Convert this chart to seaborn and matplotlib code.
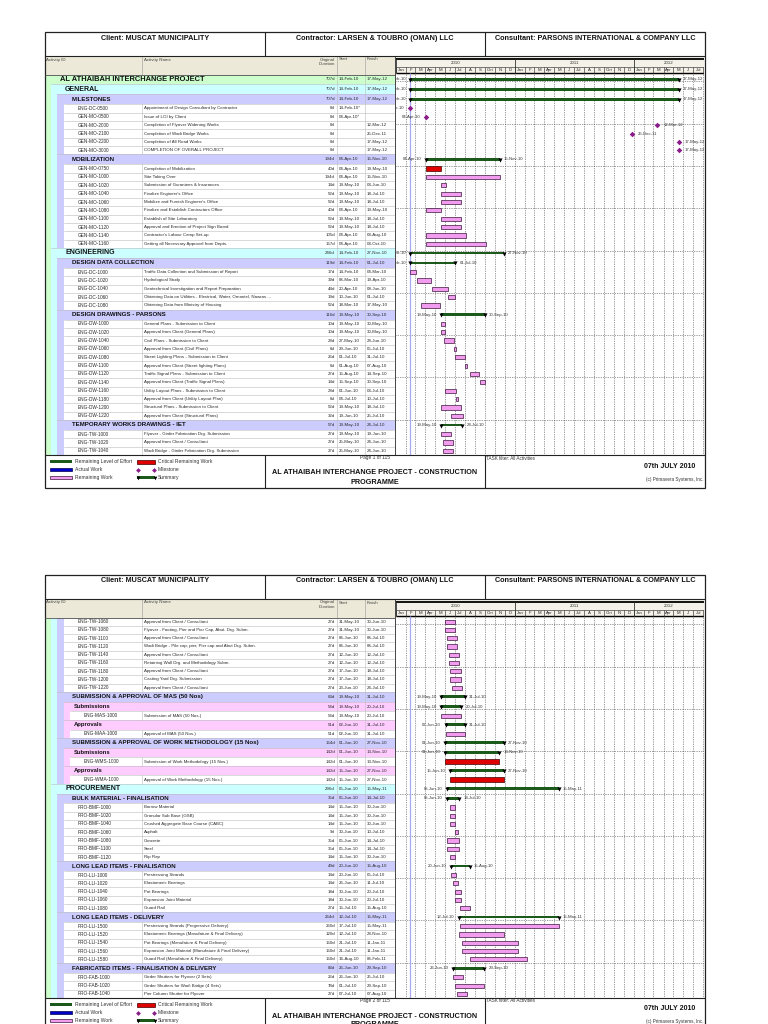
import numpy as np
import pandas as pd
import matplotlib
matplotlib.use('Agg')
import matplotlib.pyplot as plt
import matplotlib.dates as mdates
import matplotlib.transforms as mtrans
from matplotlib.patches import Rectangle
import seaborn as sns

sns.set_theme(style='white')
plt.rcParams['font.family'] = ['Liberation Sans', 'DejaVu Sans']

# ---------------- page 1 rows ----------------
p1_kind = ['L0', 'L1', 'L2', 'mile', 'mile', 'mile', 'mile', 'mile', 'mile',
           'L2', 'crit', 'task', 'task', 'task', 'task', 'task', 'task', 'task', 'task', 'task',
           'L1', 'L2', 'task', 'task', 'task', 'task', 'task',
           'L2', 'task', 'task', 'task', 'task', 'task', 'task', 'task', 'task', 'task', 'task', 'task', 'task',
           'L2', 'task', 'task', 'task']
p1_id = ['', '', '', 'ENG-DC-0500', 'GEN-MO-0500', 'GEN-MO-2000', 'GEN-MO-2100', 'GEN-MO-2200', 'GEN-MO-3000',
         '', 'GEN-MO-0750', 'GEN-MO-1000', 'GEN-MO-1020', 'GEN-MO-1040', 'GEN-MO-1060', 'GEN-MO-1080',
         'GEN-MO-1100', 'GEN-MO-1120', 'GEN-MO-1140', 'GEN-MO-1160',
         '', '', 'ENG-DC-1000', 'ENG-DC-1020', 'ENG-DC-1040', 'ENG-DC-1060', 'ENG-DC-1080',
         '', 'ENG-DW-1000', 'ENG-DW-1020', 'ENG-DW-1040', 'ENG-DW-1060', 'ENG-DW-1080', 'ENG-DW-1100',
         'ENG-DW-1120', 'ENG-DW-1140', 'ENG-DW-1160', 'ENG-DW-1180', 'ENG-DW-1200', 'ENG-DW-1220',
         '', 'ENG-TW-1000', 'ENG-TW-1020', 'ENG-TW-1040']
p1_name = ['AL ATHAIBAH INTERCHANGE PROJECT', 'GENERAL', 'MILESTONES',
           'Appointment of Design Consultant by Contractor', 'Issue of LOI by Client',
           'Completion of Flyover Widening Works', 'Completion of Wadi Bridge Works',
           'Completion of All Road Works', 'COMPLETION OF OVERALL PROJECT',
           'MOBILIZATION', 'Completion of Mobilization', 'Site Taking Over',
           'Submission of Gurantees & Insurances', "Finalize Engineer's Office",
           "Mobilize and Furnish Engineer's Office", 'Finalize and Establish Contractors Office',
           'Establish of Site Laboratory', 'Approval and Erection of Project Sign Board',
           "Contractor's Labour Camp Set-up", 'Getting all Necessary Approval from Depts.',
           'ENGINEERING', 'DESIGN DATA COLLECTION',
           'Traffic Data Collection and Submission of Report', 'Hydrological Study',
           'Geotechnical Investigation and Report Preparation',
           'Obtaining Data on Utilities - Electrical, Water, Omantel, Nawras ...',
           'Obtaining Data from Ministry of Housing',
           'DESIGN DRAWINGS - PARSONS', 'General Plans - Submission to Client',
           'Approval from Client (General Plans)', 'Civil Plans - Submission to Client',
           'Approval from Client (Civil Plans)', 'Street Lighting Plans - Submission to Client',
           'Approval from Client (Street lighting Plans)', 'Traffic Signal Plans - Submission to Client',
           'Approval from Client (Traffic Signal Plans)', 'Utility Layout Plans - Submission to Client',
           'Approval from Client (Utility Layout Plan)', 'Structural Plans - Submission to Client',
           'Approval from Client (Structural Plans)',
           'TEMPORARY WORKS DRAWINGS - IET', 'Flyover - Girder Fabrication Drg. Submission',
           'Approval from Client / Consultant', 'Wadi Bridge - Girder Fabrication Drg. Submission']
p1_dur = ['707d', '707d', '707d', '0d', '0d', '0d', '0d', '0d', '0d',
          '194d', '40d', '194d', '14d', '52d', '52d', '40d', '52d', '52d', '105d', '157d',
          '246d', '119d', '17d', '39d', '44d', '19d', '52d',
          '116d', '10d', '10d', '28d', '6d', '26d', '6d', '27d', '14d', '28d', '6d', '52d', '32d',
          '57d', '27d', '27d', '27d']
p1_start = ['14-Feb-10', '14-Feb-10', '14-Feb-10', '14-Feb-10*', '04-Apr-10*', '', '', '', '',
            '04-Apr-10', '04-Apr-10', '04-Apr-10', '19-May-10', '19-May-10', '19-May-10', '04-Apr-10',
            '19-May-10', '19-May-10', '04-Apr-10', '04-Apr-10',
            '14-Feb-10', '14-Feb-10', '14-Feb-10', '06-Mar-10', '20-Apr-10', '10-Jun-10', '18-Mar-10',
            '19-May-10', '19-May-10', '19-May-10', '27-May-10', '29-Jun-10', '01-Jul-10', '01-Aug-10',
            '15-Aug-10', '15-Sep-10', '01-Jun-10', '04-Jul-10', '19-May-10', '19-Jun-10',
            '19-May-10', '19-May-10', '25-May-10', '25-May-10']
p1_finish = ['17-May-12', '17-May-12', '17-May-12', '', '', '12-Mar-12', '25-Dec-11', '17-May-12', '17-May-12',
             '15-Nov-10', '19-May-10', '15-Nov-10', '03-Jun-10', '18-Jul-10', '18-Jul-10', '19-May-10',
             '18-Jul-10', '18-Jul-10', '03-Aug-10', '03-Oct-10',
             '27-Nov-10', '01-Jul-10', '04-Mar-10', '19-Apr-10', '09-Jun-10', '01-Jul-10', '17-May-10',
             '30-Sep-10', '30-May-10', '30-May-10', '28-Jun-10', '05-Jul-10', '31-Jul-10', '07-Aug-10',
             '14-Sep-10', '30-Sep-10', '03-Jul-10', '10-Jul-10', '18-Jul-10', '25-Jul-10',
             '24-Jul-10', '19-Jun-10', '24-Jun-10', '24-Jun-10']

# ---------------- page 2 rows ----------------
p2_kind = ['task'] * 9 + ['L2', 'L3', 'task', 'L3', 'task',
                          'L2', 'L3', 'crit', 'L3', 'crit',
                          'L1', 'L2'] + ['task'] * 7 + ['L2'] + ['task'] * 5 + ['L2'] + ['task'] * 5 + \
          ['L2'] + ['task'] * 3
p2_id = ['ENG-TW-1060', 'ENG-TW-1080', 'ENG-TW-1100', 'ENG-TW-1120', 'ENG-TW-1140', 'ENG-TW-1160',
         'ENG-TW-1180', 'ENG-TW-1200', 'ENG-TW-1220',
         '', '', 'ENG-MAS-1000', '', 'ENG-MAA-1000',
         '', '', 'ENG-WMS-1000', '', 'ENG-WMA-1000',
         '', '', 'PRO-BMF-1000', 'PRO-BMF-1020', 'PRO-BMF-1040', 'PRO-BMF-1060', 'PRO-BMF-1080',
         'PRO-BMF-1100', 'PRO-BMF-1120',
         '', 'PRO-LLI-1000', 'PRO-LLI-1020', 'PRO-LLI-1040', 'PRO-LLI-1060', 'PRO-LLI-1080',
         '', 'PRO-LLI-1500', 'PRO-LLI-1520', 'PRO-LLI-1540', 'PRO-LLI-1560', 'PRO-LLI-1580',
         '', 'PRO-FAB-1000', 'PRO-FAB-1020', 'PRO-FAB-1040']
p2_name = ['Approval from Client / Consultant', 'Flyover - Footing, Pier and Pier Cap, Abut. Drg. Subm.',
           'Approval from Client / Consultant', 'Wadi Bridge - Pile cap, pier, Pier cap and Abut Drg. Subm.',
           'Approval from Client / Consultant', 'Retaining Wall Drg. and Methodology Subm.',
           'Approval from Client / Consultant', 'Casting Yard Drg. Submission',
           'Approval from Client / Consultant',
           'SUBMISSION & APPROVAL OF MAS (50 Nos)', 'Submissions', 'Submission of MAS (50 Nos.)',
           'Approvals', 'Approval of MAS (50 Nos.)',
           'SUBMISSION & APPROVAL OF WORK METHODOLOGY (15 Nos)', 'Submissions',
           'Submission of Work Methodology (15 Nos.)', 'Approvals', 'Approval of Work Methodology (15 Nos.)',
           'PROCUREMENT', 'BULK MATERIAL - FINALISATION', 'Borrow Material', 'Granular Sub Base (GSB)',
           'Crushed Aggregate Base Course (CABC)', 'Asphalt', 'Concrete', 'Steel', 'Rip Rap',
           'LONG LEAD ITEMS - FINALISATION', 'Prestressing Strands', 'Elastomeric Bearings', 'Pot Bearings',
           'Expansion Joint Material', 'Guard Rail',
           'LONG LEAD ITEMS - DELIVERY', 'Prestressing Strands (Progressive Delivery)',
           'Elastomeric Bearings (Manufature & Final Delivery)', 'Pot Bearings (Manufature & Final Delivery)',
           'Expansion Joint Material (Manufature & Final Delivery)', 'Guard Rail (Manufature & Final Delivery)',
           'FABRICATED ITEMS - FINALISATION & DELIVERY', 'Girder Shutters for Flyover (2 Sets)',
           'Girder Shutters for Wadi Bridge (4 Sets)', 'Pier Column Shutter for Flyover']
p2_dur = ['27d'] * 9 + ['63d', '54d', '54d', '51d', '51d', '154d', '142d', '142d', '142d', '142d',
                        '296d', '35d', '14d', '14d', '14d', '9d', '35d', '35d', '14d',
                        '49d', '14d', '14d', '18d', '18d', '27d',
                        '264d', '260d', '120d', '150d', '150d', '150d',
                        '83d', '26d', '78d', '27d']
p2_start = ['31-May-10', '31-May-10', '06-Jun-10', '06-Jun-10', '12-Jun-10', '12-Jun-10', '17-Jun-10',
            '17-Jun-10', '23-Jun-10',
            '19-May-10', '19-May-10', '19-May-10', '02-Jun-10', '02-Jun-10',
            '01-Jun-10', '01-Jun-10', '01-Jun-10', '15-Jun-10', '15-Jun-10',
            '05-Jun-10', '05-Jun-10', '15-Jun-10', '15-Jun-10', '15-Jun-10', '30-Jun-10', '05-Jun-10',
            '05-Jun-10', '15-Jun-10',
            '20-Jun-10', '20-Jun-10', '26-Jun-10', '30-Jun-10', '30-Jun-10', '15-Jul-10',
            '12-Jul-10', '17-Jul-10', '12-Jul-10', '21-Jul-10', '21-Jul-10', '16-Aug-10',
            '26-Jun-10', '26-Jun-10', '01-Jul-10', '07-Jul-10']
p2_finish = ['30-Jun-10', '30-Jun-10', '06-Jul-10', '06-Jul-10', '12-Jul-10', '12-Jul-10', '18-Jul-10',
             '18-Jul-10', '24-Jul-10',
             '31-Jul-10', '20-Jul-10', '20-Jul-10', '31-Jul-10', '31-Jul-10',
             '27-Nov-10', '13-Nov-10', '13-Nov-10', '27-Nov-10', '27-Nov-10',
             '15-May-11', '14-Jul-10', '30-Jun-10', '30-Jun-10', '30-Jun-10', '10-Jul-10', '14-Jul-10',
             '14-Jul-10', '30-Jun-10',
             '15-Aug-10', '05-Jul-10', '11-Jul-10', '20-Jul-10', '20-Jul-10', '15-Aug-10',
             '15-May-11', '15-May-11', '28-Nov-10', '11-Jan-11', '11-Jan-11', '06-Feb-11',
             '29-Sep-10', '25-Jul-10', '29-Sep-10', '07-Aug-10']

month_labels = ['Jan', 'F', 'M', 'Apr', 'M', 'J', 'Jul', 'A', 'S', 'Oct', 'N', 'D']
gantt_start, gantt_end = '2010-01-01', '2012-08-03'
project_start = '2010-02-14'

# ---------------- layout (pixels) ----------------
W, H = 768, 1024
PAGE_L, PAGE_R = 45, 705
COL_NAME, COL_START, COL_FIN, TABLE_R = 142, 336.5, 365, 395
GANTT_L, GANTT_R = 396, 704
XS = [45, 51, 57, 64, 70, 76]
GROUP_COLORS = ['#CCFFCC', '#CCFFFF', '#CCCCFF', '#FFCCFF']
LABEL_X = [60, 65, 72, 74]
GROUP_FS = [5.4, 5.0, 4.4, 4.2]
GROUP_H, TASK_H = 9.9, 8.35
TXT = '#2a2a2a'
PINK, PINK_EDGE = '#F29CF0', '#3C143C'
RED, RED_EDGE = '#E00000', '#400000'
SUMM = '#1C5A1C'
MILE = '#8B1A8B'

fig = plt.figure(figsize=(W / 100, H / 100), dpi=100)
fig.patch.set_facecolor('white')
base = fig.add_axes([0, 0, 1, 1])
base.set_xlim(0, W)
base.set_ylim(H, 0)
base.axis('off')


def to_num(s):
    s = s.replace('*', '').strip()
    if not s:
        return np.nan
    return mdates.date2num(pd.to_datetime(s, format='%d-%b-%y'))


def draw_page(T, page_no, kind, ids, names, durs, starts, fins, depth0):
    top, bot = T + 42.5, T + 423
    # frame and header boxes
    base.add_patch(Rectangle((PAGE_L, T + 24), TABLE_R - PAGE_L, 18.5, fc='#ECE9D8', ec='none'))
    base.add_patch(Rectangle((GANTT_L, T + 24), GANTT_R - GANTT_L, 18.5, fc='#F4F2E8', ec='none'))
    base.add_patch(Rectangle((PAGE_L, T), PAGE_R - PAGE_L, 456, fill=False, ec='#222222', lw=0.9, zorder=6))
    for y in [T + 24, T + 423]:
        base.plot([PAGE_L, PAGE_R], [y, y], color='#222222', lw=0.8, zorder=6)
    base.plot([PAGE_L, TABLE_R], [top, top], color='#555555', lw=0.6, zorder=6)
    for x in [265, 485]:
        base.plot([x, x], [T, T + 24], color='#222222', lw=0.8)
        base.plot([x, x], [T + 423, T + 456], color='#222222', lw=0.8)
    base.plot([TABLE_R, TABLE_R], [T + 24, bot], color='#444444', lw=0.7, zorder=5)
    base.text(155, T + 6, 'Client: MUSCAT MUNICIPALITY', ha='center', va='center',
              fontsize=5.2, weight='bold', color='#111111')
    base.text(375, T + 6, 'Contractor: LARSEN & TOUBRO (OMAN) LLC', ha='center', va='center',
              fontsize=5.2, weight='bold', color='#111111')
    base.text(595, T + 6, 'Consultant: PARSONS INTERNATIONAL & COMPANY LLC', ha='center', va='center',
              fontsize=5.2, weight='bold', color='#111111')
    # column headers
    hfs = 3.2
    base.text(46, T + 25.5, 'Activity ID', fontsize=hfs, va='top', color='#444444')
    base.text(COL_NAME + 2, T + 25.5, 'Activity Name', fontsize=hfs, va='top', color='#444444')
    base.text(COL_START - 1.5, T + 25.5, 'Original\nDuration', fontsize=hfs, va='top', ha='right',
              color='#444444', linespacing=1.1)
    base.text(COL_START + 2, T + 25.5, 'Start', fontsize=hfs, va='top', color='#444444')
    base.text(COL_FIN + 2, T + 25.5, 'Finish', fontsize=hfs, va='top', color='#444444')
    for x in [COL_NAME, COL_START, COL_FIN]:
        base.plot([x, x], [T + 24, top], color='#9a9a9a', lw=0.4)

    # row layout
    is_group = [k.startswith('L') for k in kind]
    h = np.array([GROUP_H if g else TASK_H for g in is_group])
    h = h * (bot - top) / h.sum()
    edges = top + np.concatenate([[0], np.cumsum(h)])
    mids = (edges[:-1] + edges[1:]) / 2

    depth = depth0
    for i, k in enumerate(kind):
        y0, y1, ym = edges[i], edges[i + 1], mids[i]
        if is_group[i]:
            lv = int(k[1])
            depth = lv
            x0, fill, nanc = XS[lv], GROUP_COLORS[lv], lv
        else:
            x0, fill, nanc = XS[depth + 1], 'white', depth + 1
        for a in range(nanc):
            base.add_patch(Rectangle((XS[a], y0), XS[a + 1] - XS[a], y1 - y0,
                                     fc=GROUP_COLORS[a], ec='none'))
        base.add_patch(Rectangle((x0, y0), TABLE_R - x0, y1 - y0, fc=fill, ec='none'))
        base.plot([x0, TABLE_R], [y0, y0], color='#BBBBBB', lw=0.4)
        for x in [COL_START, COL_FIN]:
            base.plot([x, x], [y0, y1], color='#BBBBBB', lw=0.4)
        dfs = 3.2
        if is_group[i]:
            base.text(LABEL_X[lv], ym, names[i], fontsize=GROUP_FS[lv], weight='bold',
                      va='center', color='#121212')
        else:
            base.plot([COL_NAME, COL_NAME], [y0, y1], color='#BBBBBB', lw=0.4)
            base.text(x0 + 14, ym, ids[i], fontsize=3.4, va='center', color=TXT)
            base.text(COL_NAME + 2, ym, names[i], fontsize=3.2, va='center', color=TXT)
        base.text(COL_START - 1.5, ym, durs[i], fontsize=dfs, va='center', ha='right', color=TXT)
        base.text(COL_START + 2, ym, starts[i], fontsize=dfs, va='center', color=TXT)
        base.text(COL_FIN + 2, ym, fins[i], fontsize=dfs, va='center', color=TXT)
    base.plot([PAGE_L, TABLE_R], [bot, bot], color='#888888', lw=0.4)

    # ---------------- gantt ----------------
    d0, d1 = mdates.date2num(pd.Timestamp(gantt_start)), mdates.date2num(pd.Timestamp(gantt_end))
    g = fig.add_axes([GANTT_L / W, 1 - bot / H, (GANTT_R - GANTT_L) / W, (bot - T - 24) / H])
    g.set_xlim(d0, d1)
    g.set_ylim(bot, T + 24)
    g.axis('off')

    mstarts = pd.date_range(gantt_start, '2012-09-01', freq='MS')
    mnum = mdates.date2num(mstarts)
    ystarts = mdates.date2num(pd.to_datetime(['2010-01-01', '2011-01-01', '2012-01-01', '2013-01-01']))
    g.hlines([T + 26.5], d0, d1, color='black', lw=1.3)
    g.hlines([T + 34.5], d0, d1, color='#444444', lw=0.5)
    g.hlines([T + 40.8], d0, d1, color='black', lw=1.0)
    g.vlines(ystarts[:-1], T + 26.5, T + 40.8, color='#333333', lw=0.6)
    g.vlines(mnum, T + 34.5, T + 40.8, color='#333333', lw=0.45)
    for j in range(3):
        a, b = max(ystarts[j], d0), min(ystarts[j + 1], d1)
        g.text((a + b) / 2, T + 30.6, str(2010 + j), fontsize=3.2, ha='center', va='center', color='#333333')
    for j in range(len(mnum) - 1):
        c = (mnum[j] + mnum[j + 1]) / 2
        if c < d1:
            g.text(c, T + 37.8, month_labels[mstarts[j].month - 1], fontsize=3.1, ha='center',
                   va='center', color='#222222', clip_on=True)

    g.vlines(mnum[1:], T + 41, bot, colors='#3a3a3a', linestyles=(0, (1.2, 1.6)), lw=0.45)
    hgrid = [T + 49.3 + 42.3 * k for k in range(9) if T + 49.3 + 42.3 * k < bot]
    g.hlines(hgrid, d0, d1, colors='#3a3a3a', linestyles=(0, (1.2, 1.6)), lw=0.45)
    g.vlines([mdates.date2num(pd.Timestamp(project_start))], T + 41, bot, color='#A8A8F0', lw=0.9)

    st = np.array([to_num(s) for s in starts])
    fn = np.array([to_num(s) for s in fins])
    kind_arr = np.array(kind)
    grp = np.array(is_group)

    tl = mtrans.offset_copy(g.transData, fig=fig, x=-3.2, y=0, units='points')
    tr = mtrans.offset_copy(g.transData, fig=fig, x=3.2, y=0, units='points')
    lfs = 3.1

    # summary bars
    g.barh(mids[grp], fn[grp] - st[grp], left=st[grp], height=2.6, color=SUMM, lw=0, zorder=4)
    tri = pd.DataFrame({'x': np.concatenate([st[grp], fn[grp]]),
                        'y': np.concatenate([mids[grp], mids[grp]]) + 0.6})
    sns.scatterplot(data=tri, x='x', y='y', marker='v', s=9, color='black', linewidth=0,
                    ax=g, zorder=5, legend=False)
    for y, a, b, sa, sb in zip(mids[grp], st[grp], fn[grp], np.array(starts)[grp], np.array(fins)[grp]):
        g.text(a, y, sa, transform=tl, fontsize=lfs, ha='right', va='center', color='#333333', clip_on=True)
        g.text(b, y, sb, transform=tr, fontsize=lfs, ha='left', va='center', color='#333333', clip_on=True)

    # activity bars
    for kk, fc, ec in [('task', PINK, PINK_EDGE), ('crit', RED, RED_EDGE)]:
        m = kind_arr == kk
        if m.any():
            g.barh(mids[m], fn[m] - st[m], left=st[m], height=4.2, color=fc, edgecolor=ec,
                   linewidth=0.5, zorder=4)

    # milestones
    m = kind_arr == 'mile'
    if m.any():
        md = np.where(np.isnan(st[m]), fn[m], st[m])
        ms = pd.DataFrame({'x': md, 'y': mids[m]})
        sns.scatterplot(data=ms, x='x', y='y', marker='D', s=8, color=MILE, linewidth=0,
                        ax=g, zorder=5, legend=False)
        tl2 = mtrans.offset_copy(g.transData, fig=fig, x=-4.5, y=0, units='points')
        tr2 = mtrans.offset_copy(g.transData, fig=fig, x=4.5, y=0, units='points')
        for y, a, b, sa, sb in zip(mids[m], st[m], fn[m], np.array(starts)[m], np.array(fins)[m]):
            if not np.isnan(a):
                g.text(a, y, sa.replace('*', ''), transform=tl2, fontsize=lfs, ha='right', va='center',
                       color='#333333', clip_on=True)
            else:
                g.text(b, y, sb, transform=tr2, fontsize=lfs, ha='left', va='center',
                       color='#333333', clip_on=True)
    g.set_xlim(d0, d1)
    g.set_ylim(bot, T + 24)

    # ---------------- footer ----------------
    rows_y = [T + 429.5, T + 437.5, T + 445.5]
    lfs2 = 3.6
    base.add_patch(Rectangle((50, rows_y[0] - 1.3), 22, 2.6, fc=SUMM, ec='none'))
    base.add_patch(Rectangle((137, rows_y[0] - 2), 18, 4, fc=RED, ec=RED_EDGE, lw=0.5))
    base.add_patch(Rectangle((50, rows_y[1] - 1.8), 22, 3.6, fc='#0000C8', ec='#000050', lw=0.5))
    base.add_patch(Rectangle((50, rows_y[2] - 1.8), 22, 3.6, fc=PINK, ec=PINK_EDGE, lw=0.5))
    base.scatter([138, 154], [rows_y[1], rows_y[1]], marker='D', s=6, color=MILE, lw=0)
    base.add_patch(Rectangle((137, rows_y[2] - 1.3), 18, 2.4, fc=SUMM, ec='none'))
    base.scatter([137.5, 154.5], [rows_y[2] + 0.6, rows_y[2] + 0.6], marker='v', s=7, color='black', lw=0)
    for (x, y, s) in [(75, rows_y[0], 'Remaining Level of Effort'), (158, rows_y[0], 'Critical Remaining Work'),
                      (75, rows_y[1], 'Actual Work'), (158, rows_y[1], 'Milestone'),
                      (75, rows_y[2], 'Remaining Work'), (158, rows_y[2], 'Summary')]:
        base.text(x, y, s, fontsize=lfs2, va='center', color='#333333')
    base.text(375, T + 425.5, 'Page %d of 115' % page_no, fontsize=3.4, ha='center', va='center',
              color='#333333')
    base.text(375, T + 441, 'AL ATHAIBAH INTERCHANGE PROJECT - CONSTRUCTION', fontsize=5.2,
              weight='bold', ha='center', va='center', color='#111111')
    base.text(375, T + 450, 'PROGRAMME', fontsize=5.2, weight='bold', ha='center', va='center',
              color='#111111')
    base.text(486.5, T + 426, 'TASK filter: All Activities', fontsize=3.3, va='center', color='#333333')
    base.text(670, T + 434, '07th JULY 2010', fontsize=5.0, weight='bold', ha='center', va='center',
              color='#111111')
    base.text(703, T + 447, '(c) Primavera Systems, Inc.', fontsize=3.3, ha='right', va='center',
              color='#333333')


draw_page(32, 1, p1_kind, p1_id, p1_name, p1_dur, p1_start, p1_finish, 0)
draw_page(575, 2, p2_kind, p2_id, p2_name, p2_dur, p2_start, p2_finish, 2)

fig.savefig('out.png', dpi=100, facecolor='white')
